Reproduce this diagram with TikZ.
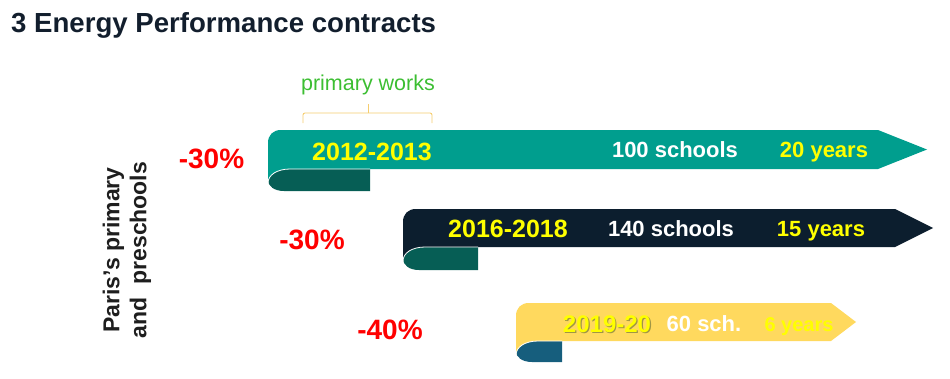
\documentclass[tikz,border=0pt]{standalone}
\usepackage{fontspec}
\setmainfont{Liberation Sans}

\definecolor{titlecol}{RGB}{18,30,45}
\definecolor{tealband}{RGB}{0,158,142}
\definecolor{darkteal}{RGB}{6,94,85}
\definecolor{navyband}{RGB}{12,30,46}
\definecolor{sandband}{RGB}{255,217,94}
\definecolor{petrol}{RGB}{22,94,125}
\definecolor{yel}{RGB}{255,255,0}
\definecolor{shadowyel}{RGB}{160,150,70}
\definecolor{grn}{RGB}{60,190,50}
\definecolor{bracecol}{RGB}{245,205,110}
\definecolor{sidecol}{RGB}{30,30,30}

% ribbon: left, top, arrow base, tip, bottom, curl right, curl bottom, band colour, curl colour
\newcommand{\ribbon}[9]{%
  \fill[#9] (#6,#5) -- (#6,#7) -- ({#1+16},#7)
    .. controls ({#1+6},#7) and (#1,{#7-5}) .. (#1,{(#5+#7)/2})
    .. controls (#1,{#5+5}) and ({#1+6},#5) .. ({#1+16},#5) -- cycle;
  \fill[#8] ({#1+13},#2) -- (#3,#2) -- (#4,{(#2+#5)/2}) -- (#3,#5) -- ({#1+22},#5)
    .. controls ({#1+9},#5) and (#1,{#5+6}) .. (#1,{#5+14}) -- (#1,{#2+13})
    .. controls (#1,{#2+5}) and ({#1+5},#2) .. ({#1+13},#2) -- cycle;
  \draw[white,line width=0.8pt] (#1,{#5+14}) .. controls (#1,{#5+6}) and ({#1+9},#5) .. ({#1+22},#5) -- (#6,#5);
}

\begin{document}
\begin{tikzpicture}[x=1pt,y=-1pt]
\tikzstyle{yr}=[anchor=base,inner sep=0pt,font=\fontsize{25}{30}\selectfont\bfseries,text=yel]
\tikzstyle{info}=[anchor=base,inner sep=0pt,font=\fontsize{22}{26}\selectfont\bfseries,text=white]
\tikzstyle{dur}=[info,text=yel]
\tikzstyle{pct}=[anchor=base,inner sep=0pt,font=\fontsize{28}{33}\selectfont\bfseries,text=red]
\useasboundingbox (0,0) rectangle (950,378);

\node[anchor=base west,inner sep=0pt,font=\fontsize{27.6}{32}\selectfont\bfseries,text=titlecol] (title) at (11,32.5) {3 Energy Performance contracts};

% side label
\node[rotate=90,align=center,inner sep=0pt,font=\fontsize{23}{27}\selectfont\bfseries,text=sidecol] (side) at (127,250) {Paris’s primary\\and\ \ preschools};

% primary works
\node[anchor=base,inner sep=0pt,font=\fontsize{21.5}{26}\selectfont,text=grn] (pw) at (368,90) {primary works};
\coordinate (bl) at (303,123); \coordinate (br) at (432,123);
\draw[bracecol,line width=0.9pt,rounded corners=2pt] (bl) -- (303,113) -- (432,113) -- (br);
\draw[bracecol,line width=0.9pt] (368,113) -- (368,104);

% contracts
\ribbon{268}{130}{878}{927}{169}{370}{191}{tealband}{darkteal}
\ribbon{403}{209}{895}{933}{247}{478}{270}{navyband}{darkteal}
\ribbon{516}{303}{831}{856}{341}{562}{362}{sandband}{petrol}

\node[yr] (yr1) at (372,160) {2012-2013};
\node[info] (sc1) at (675,157) {100 schools};
\node[dur] (ty1) at (824,157) {20 years};

\node[yr] (yr2) at (508,237) {2016-2018};
\node[info] (sc2) at (671,236) {140 schools};
\node[dur] (ty2) at (821,236) {15 years};

\node[yr,text=shadowyel,font=\fontsize{24}{29}\selectfont\bfseries] (yr3s) at (608.2,333.2) {2019-20};
\node[yr,font=\fontsize{24}{29}\selectfont\bfseries] (yr3) at (607,332) {2019-20};
\node[info] (sc3) at (704,331) {60 sch.};
\node[dur,font=\fontsize{20}{24}\selectfont\bfseries] (ty3) at (799,331) {6 years};

% savings
\node[pct] (pc1) at (211.5,168) {-30\%};
\node[pct] (pc2) at (312,249) {-30\%};
\node[pct] (pc3) at (390,339) {-40\%};
\end{tikzpicture}
\end{document}
